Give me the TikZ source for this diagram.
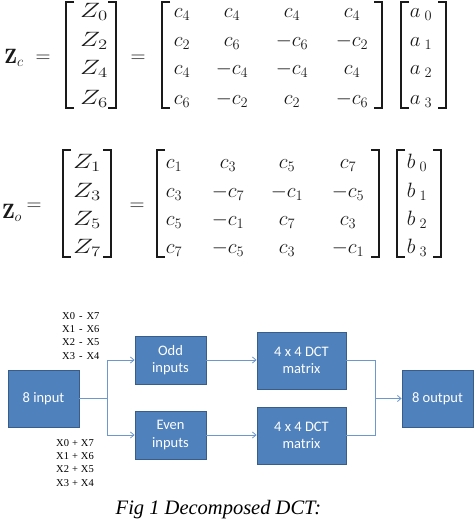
\documentclass[tikz,border=0pt]{standalone}
\usepackage{graphicx}
\usepackage{fontspec}
\newfontfamily\carl{Carlito}
\newfontfamily\tnr{Liberation Serif}
\usetikzlibrary{arrows.meta}
\definecolor{boxfill}{HTML}{4F81BD}
\definecolor{boxline}{HTML}{385D8A}
\definecolor{wire}{HTML}{6E97CB}
\definecolor{ink}{HTML}{1A1A1A}
\newcommand\strx[1]{\scalebox{1.3}[1]{#1}}
\newcommand\BrL[5]{\draw[brk] (#1+8,#2) -- (#1,#2) -- (#1,#3) -- (#1+8,#3); \draw[brkb] (#1,#4) -- (#1,#5);}
\newcommand\BrR[5]{\draw[brk] (#1-8,#2) -- (#1,#2) -- (#1,#3) -- (#1-8,#3); \draw[brkb] (#1,#4) -- (#1,#5);}
\tikzset{
  mth/.style={font=\fontsize{20.74}{24}\selectfont, text=ink, inner sep=0pt, anchor=base},
  brk/.style={draw=ink, line width=1.1pt},
  brkb/.style={draw=ink, line width=2.4pt},
  blk/.style={draw=boxline, fill=boxfill, line width=0.9pt, text=white,
    font=\carl\fontsize{14.5}{17.5}\selectfont, align=center, inner sep=0pt},
  wirel/.style={draw=wire, line width=0.8pt},
  arr/.style={wirel, -{Straight Barb[length=3.5pt,width=6pt]}},
  lbl/.style={font=\tnr\fontsize{10.5}{13.3}\selectfont, align=left, inner sep=0pt, anchor=north west}
}
\begin{document}
\begin{tikzpicture}[x=1pt,y=-1pt]
\useasboundingbox (0,0) rectangle (474,520);
% ---------- equation 1 ----------
\node[mth] (zc) at (14,63) {$\mathbf{Z}_c$};
\node[mth] (e1a) at (43,62) {$=$};
\node[mth] (e1b) at (138,62) {$=$};
\BrL{66}{2}{108}{40}{68}
\BrR{116}{2}{108}{40}{68}
\BrL{162}{2}{108}{40}{68}
\BrR{382}{2}{108}{40}{68}
\BrL{401}{2}{108}{40}{68}
\BrR{446}{2}{108}{40}{68}
\foreach \r/\y/\za/\ca/\cb/\cc/\cd/\aa in {
  1/17.5/Z_0/c_4/c_4/c_4/c_4/a_{\hspace{4pt}0},
  2/46/Z_2/c_2/c_6/-c_6/-c_2/a_{\hspace{4pt}1},
  3/74.5/Z_4/c_4/-c_4/-c_4/c_4/a_{\hspace{4pt}2},
  4/104/Z_6/c_6/-c_2/c_2/-c_6/a_{\hspace{4pt}3}}{
  \node[mth] (z1\r) at (94,\y) {\strx{$\za$}};
  \node[mth] (m1\r a) at (182,\y) {$\ca$};
  \node[mth] (m1\r b) at (232,\y) {$\cb$};
  \node[mth] (m1\r c) at (292,\y) {$\cc$};
  \node[mth] (m1\r d) at (352,\y) {$\cd$};
  \node[mth] (a1\r) at (421,\y) {$\aa$};
}
% ---------- equation 2 ----------
\node[mth] (zo) at (12,218) {$\mathbf{Z}_o$};
\node[mth] (e2a) at (34,210) {$=$};
\node[mth] (e2b) at (137,210) {$=$};
\BrL{63}{150}{257}{175}{217}
\BrR{111}{150}{257}{175}{217}
\BrL{157}{150}{257}{175}{217}
\BrR{379}{150}{257}{175}{217}
\BrL{397}{150}{257}{175}{217}
\BrR{441}{150}{257}{175}{217}
\foreach \r/\y/\za/\ca/\cb/\cc/\cd/\aa in {
  1/168/Z_1/c_1/c_3/c_5/c_7/b_{\hspace{4pt}0},
  2/197/Z_3/c_3/-c_7/-c_1/-c_5/b_{\hspace{4pt}1},
  3/225/Z_5/c_5/-c_1/c_7/c_3/b_{\hspace{4pt}2},
  4/253/Z_7/c_7/-c_5/c_3/-c_1/b_{\hspace{4pt}3}}{
  \node[mth] (z2\r) at (87,\y) {\strx{$\za$}};
  \node[mth] (m2\r a) at (174,\y) {$\ca$};
  \node[mth] (m2\r b) at (228,\y) {$\cb$};
  \node[mth] (m2\r c) at (287,\y) {$\cc$};
  \node[mth] (m2\r d) at (348,\y) {$\cd$};
  \node[mth] (b2\r) at (417,\y) {$\aa$};
}
% ---------- block diagram ----------
\node[blk, minimum width=71pt, minimum height=57pt] (in) at (43.5,398.5) {8 input};
\node[blk, minimum width=71pt, minimum height=48pt] (odd) at (170.5,360) {Odd\\inputs};
\node[blk, minimum width=71pt, minimum height=48pt] (even) at (170.5,435) {Even\\inputs};
\node[blk, minimum width=89pt, minimum height=57pt] (d1) at (301.5,360.5) {4 x 4 DCT\\matrix};
\node[blk, minimum width=89pt, minimum height=57pt] (d2) at (301.5,435.5) {4 x 4 DCT\\matrix};
\node[blk, minimum width=71pt, minimum height=57pt] (out) at (437.5,398.5) {8 output};
\coordinate (s) at (107,398.5);
\coordinate (m) at (375,398.5);
\draw[wirel] (in.east) -- (s);
\draw[arr] (s) |- (odd.west);
\draw[arr] (s) |- (even.west);
\draw[arr] (odd.east) -- (odd.east -| d1.west);
\draw[arr] (even.east) -- (even.east -| d2.west);
\draw[wirel] (d1.east) -| (m);
\draw[wirel] (d2.east) -| (m);
\draw[arr] (m) -- (out.west);
\node[lbl] (lt) at (62,312) {X0\hspace{4pt}-\hspace{4pt}X7\\X1\hspace{4pt}-\hspace{4pt}X6\\X2\hspace{4pt}-\hspace{4pt}X5\\X3\hspace{4pt}-\hspace{4pt}X4};
\node[lbl] (lb) at (56,439) {X0\hspace{3pt}+\hspace{3pt}X7\\X1\hspace{3pt}+\hspace{3pt}X6\\X2\hspace{3pt}+\hspace{3pt}X5\\X3\hspace{3pt}+\hspace{3pt}X4};
\node[font=\tnr\itshape\fontsize{20.5}{24}\selectfont, inner sep=0pt, anchor=base] (cap) at (218.5,514) {Fig 1 Decomposed DCT:};
\end{tikzpicture}
\end{document}
